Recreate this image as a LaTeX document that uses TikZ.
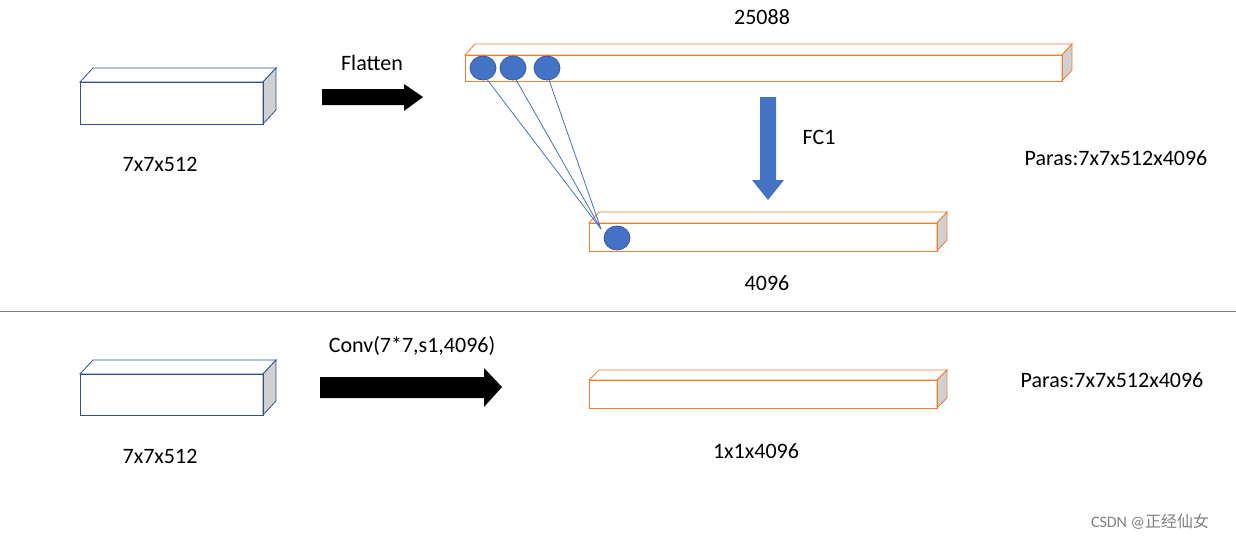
\documentclass[tikz,border=0pt]{standalone}
\usepackage{fontspec}
\usetikzlibrary{shapes.geometric}
\setmainfont{Carlito}
\newfontfamily\cjk{Noto Sans CJK SC}
\definecolor{ob}{RGB}{237,125,49}
\definecolor{bb}{RGB}{47,82,143}
\definecolor{fb}{RGB}{68,114,196}
\definecolor{sg}{RGB}{208,208,208}
\begin{document}
\begin{tikzpicture}[x=0.5pt,y=-0.5pt,
  lbl/.style={font=\fontsize{11}{13}\selectfont},
  circ/.style={ellipse,draw=fb!80!black,fill=fb,minimum width=13pt,minimum height=12pt,inner sep=0pt}]
\useasboundingbox (0,0) rectangle (1236,541);
% top left box
\draw[bb,fill=white] (80,82) -- (93,68) -- (276,68) -- (263,82) -- cycle;
\draw[bb,fill=sg] (263,82) -- (276,68) -- (276,110) -- (263,124) -- cycle;
\draw[bb] (80,82) rectangle (263,124);
% bottom left box
\draw[bb,fill=white] (80,374) -- (93,360) -- (276,360) -- (263,374) -- cycle;
\draw[bb,fill=sg] (263,374) -- (276,360) -- (276,401) -- (263,415) -- cycle;
\draw[bb] (80,374) rectangle (263,415);
% top bar
\draw[ob,fill=white] (465,55) -- (475,44) -- (1072,44) -- (1062,55) -- cycle;
\draw[ob,fill=sg] (1062,55) -- (1072,44) -- (1072,70) -- (1062,81) -- cycle;
\draw[ob] (465,55) rectangle (1062,81);
% FC bar
\draw[ob,fill=white] (589,223) -- (599,212) -- (947,212) -- (937,223) -- cycle;
\draw[ob,fill=sg] (937,223) -- (947,212) -- (947,240) -- (937,251) -- cycle;
\draw[ob] (589,223) rectangle (937,251);
% bottom bar
\draw[ob,fill=white] (589,380) -- (599,370) -- (947,370) -- (937,380) -- cycle;
\draw[ob,fill=sg] (937,380) -- (947,370) -- (947,398) -- (937,408) -- cycle;
\draw[ob] (589,380) rectangle (937,408);
% circles
\node[circ] (c1) at (483,68) {};
\node[circ] (c2) at (513,68) {};
\node[circ] (c3) at (547,68) {};
\node[circ] (c4) at (617,238) {};
\coordinate (m) at (601,229);
\foreach \c/\a in {c1/-70,c2/-75,c3/-80} \draw[fb,thin] (\c.\a) -- (m);
% arrows
\fill[black] (322,89) -- (404,89) -- (404,84) -- (423,97) -- (404,111) -- (404,105) -- (322,105) -- cycle;
\fill[black] (320,377) -- (484,377) -- (484,368) -- (502,387) -- (484,407) -- (484,398) -- (320,398) -- cycle;
\fill[fb] (760,97) -- (776,97) -- (776,180) -- (784,180) -- (768,200) -- (752,180) -- (760,180) -- cycle;
% separator
\draw[gray] (0,311) -- (1236,311);
% labels
\node[lbl] (t1) at (762,17) {25088};
\node[lbl] (t2) at (372,63) {Flatten};
\node[lbl] (t3) at (160,164) {7x7x512};
\node[lbl] (t4) at (819,137) {FC1};
\node[lbl] (t5) at (1116,158) {Paras:7x7x512x4096};
\node[lbl] (t6) at (767,283) {4096};
\node[lbl] (t7) at (412,346) {Conv(7*7,s1,4096)};
\node[lbl] (t8) at (160,456) {7x7x512};
\node[lbl] (t9) at (1112,380) {Paras:7x7x512x4096};
\node[lbl] (t10) at (756,451) {1x1x4096};
\node[font=\fontsize{8}{10}\selectfont,text=gray] (wm) at (1150,522) {CSDN @{\cjk 正经仙女}};
\end{tikzpicture}
\end{document}
